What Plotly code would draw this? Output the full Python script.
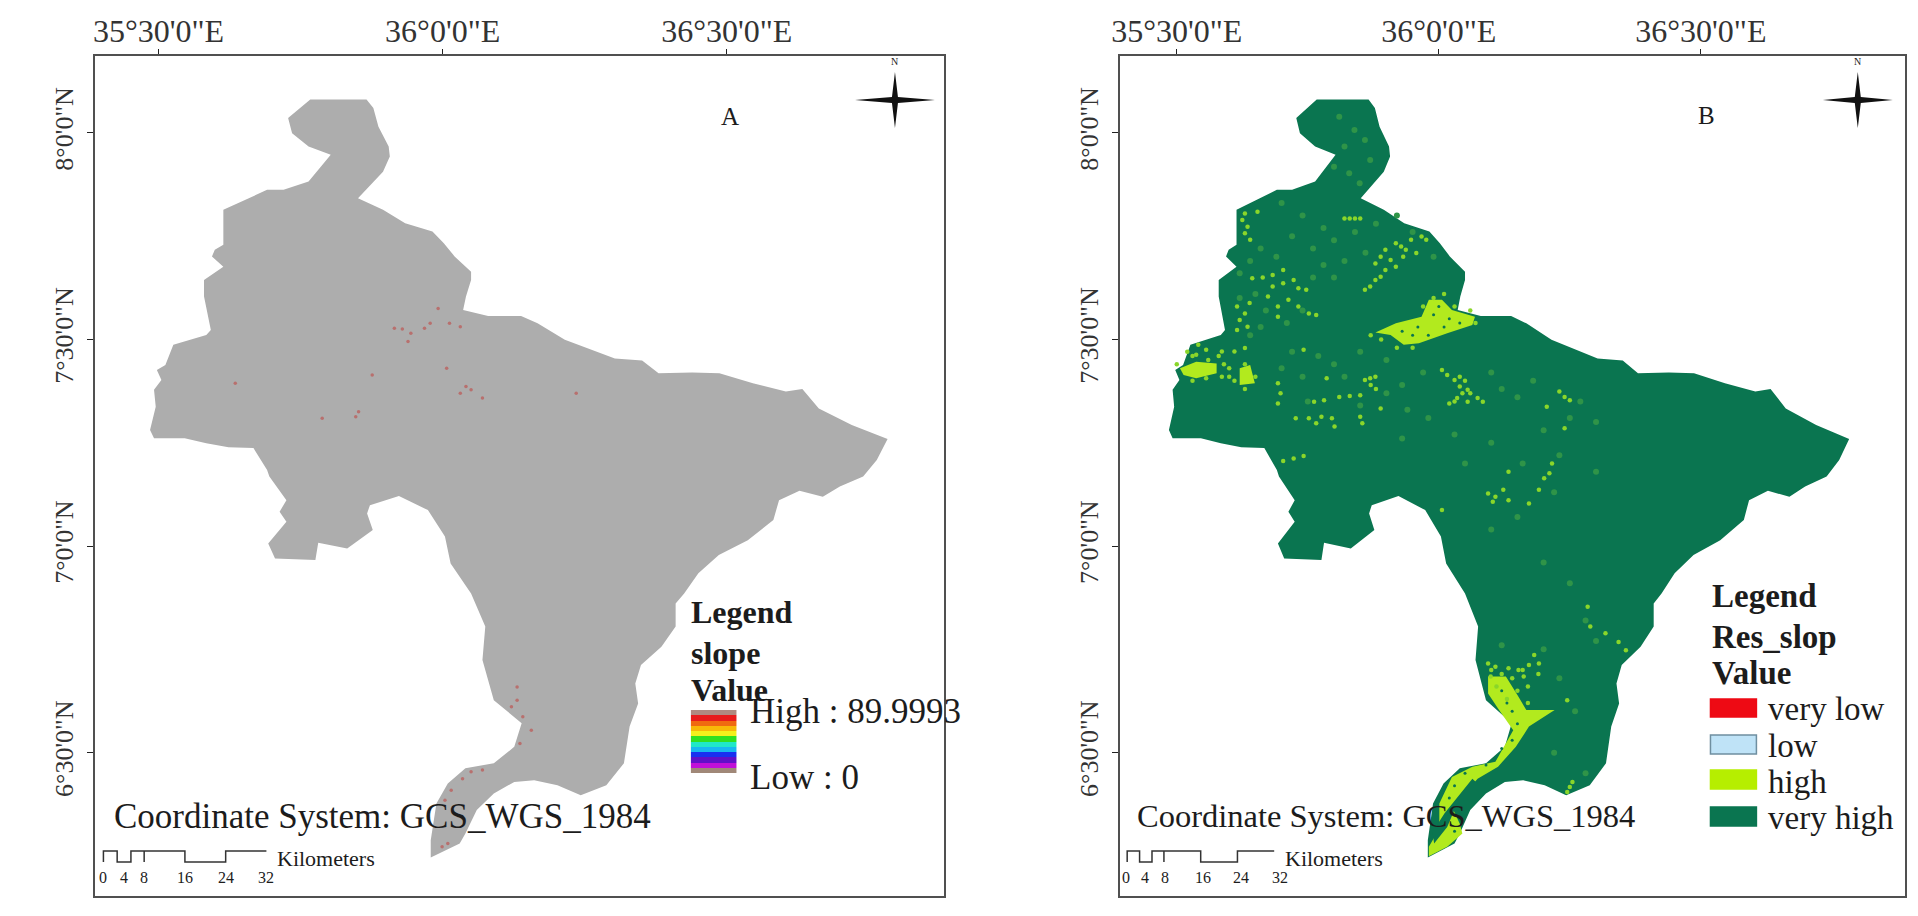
import plotly.graph_objects as go

W, H = 1918, 916
SERIF = "Liberation Serif"

# catchment outline (degrees)
outline_lon = [35.767, 35.866, 35.878, 35.887, 35.905, 35.907, 35.895, 35.871, 35.851, 35.895, 35.934, 35.982,
	36.002, 36.021, 36.050, 36.050, 36.041, 36.036, 36.080, 36.138, 36.167, 36.215, 36.254, 36.303, 36.351,
	36.380, 36.439, 36.487, 36.546, 36.604, 36.633, 36.662, 36.720, 36.783, 36.764, 36.740, 36.699, 36.669,
	36.628, 36.592, 36.582, 36.537, 36.486, 36.450, 36.425, 36.410, 36.410, 36.385, 36.349, 36.339, 36.344,
	36.329, 36.319, 36.288, 36.243, 36.202, 36.161, 36.126, 36.090, 36.060, 36.040, 36.030, 35.979, 35.979,
	35.989, 36.009, 36.040, 36.090, 36.126, 36.139, 36.090, 36.070, 36.075, 36.050, 36.014, 36.004, 35.974,
	35.923, 35.872, 35.867, 35.877, 35.832, 35.781, 35.776, 35.705, 35.693, 35.725, 35.713, 35.725, 35.695,
	35.691, 35.667, 35.623, 35.584, 35.546, 35.492, 35.485, 35.495, 35.492, 35.505, 35.497, 35.512, 35.526,
	35.584, 35.592, 35.580, 35.580, 35.614, 35.594, 35.599, 35.614, 35.614, 35.691, 35.720, 35.764, 35.803,
	35.764, 35.735, 35.728]
outline_lat = [8.081, 8.081, 8.060, 8.015, 7.967, 7.943, 7.906, 7.870, 7.842, 7.814, 7.781, 7.761,
	7.733, 7.701, 7.664, 7.644, 7.604, 7.571, 7.557, 7.557, 7.539, 7.499, 7.479, 7.454, 7.449,
	7.418, 7.420, 7.418, 7.394, 7.374, 7.380, 7.333, 7.293, 7.259, 7.208, 7.168, 7.144, 7.119,
	7.134, 7.111, 7.063, 7.014, 6.978, 6.934, 6.885, 6.861, 6.805, 6.756, 6.712, 6.667, 6.619,
	6.563, 6.474, 6.421, 6.397, 6.421, 6.433, 6.429, 6.401, 6.361, 6.304, 6.280, 6.246, 6.288,
	6.377, 6.425, 6.462, 6.474, 6.514, 6.571, 6.627, 6.724, 6.805, 6.885, 6.958, 7.023, 7.087,
	7.121, 7.099, 7.079, 7.039, 6.994, 7.008, 6.966, 6.970, 7.006, 7.059, 7.083, 7.111, 7.168,
	7.184, 7.237, 7.239, 7.249, 7.261, 7.261, 7.281, 7.337, 7.378, 7.402, 7.426, 7.438, 7.487,
	7.511, 7.523, 7.604, 7.644, 7.676, 7.701, 7.717, 7.729, 7.814, 7.862, 7.862, 7.882, 7.947,
	7.967, 7.999, 8.036]

# panel A: steep cells showing red in the slope raster
steep_lon = [35.915, 35.929, 35.944, 35.968, 35.978, 35.992, 36.012, 36.031, 35.939, 36.007, 36.041, 36.031, 36.050,
	35.876, 35.635, 35.788, 35.847, 35.852, 36.070, 36.235, 36.131, 36.131, 36.121, 36.141, 36.156, 36.136,
	36.070, 36.050, 36.035, 36.015, 36.004, 35.999, 36.009]
steep_lat = [7.527, 7.525, 7.515, 7.527, 7.539, 7.575, 7.539, 7.531, 7.495, 7.430, 7.386, 7.370, 7.378,
	7.414, 7.394, 7.309, 7.313, 7.325, 7.358, 7.370, 6.659, 6.627, 6.611, 6.587, 6.554, 6.522,
	6.458, 6.454, 6.437, 6.409, 6.385, 6.272, 6.280]

# panel B: "high" class patches
patch_mid_lon = [35.879, 35.918, 35.967, 35.981, 36.006, 36.025, 36.069, 36.064, 36.016, 35.962, 35.933, 35.908]
patch_mid_lat = [7.517, 7.539, 7.555, 7.596, 7.596, 7.571, 7.555, 7.535, 7.515, 7.491, 7.487, 7.511]
patch_west_lon = [35.506, 35.537, 35.576, 35.576, 35.537, 35.513]
patch_west_lat = [7.430, 7.446, 7.442, 7.418, 7.406, 7.414]
patch_west2_lon = [35.620, 35.640, 35.649, 35.620]
patch_west2_lat = [7.430, 7.438, 7.394, 7.390]
patch_south_lon = [36.094, 36.128, 36.152, 36.167, 36.221, 36.172, 36.147, 36.113, 36.074, 36.055, 36.025, 36.040,
	36.045, 36.016, 35.981, 35.981, 36.001, 36.001, 36.025, 36.064, 36.108, 36.142, 36.113, 36.094]
patch_south_lat = [6.684, 6.684, 6.635, 6.603, 6.603, 6.563, 6.514, 6.466, 6.437, 6.409, 6.369, 6.328,
	6.304, 6.272, 6.249, 6.272, 6.316, 6.377, 6.441, 6.466, 6.478, 6.554, 6.607, 6.643]
sliver_lon = [36.064, 36.074, 36.035, 36.016, 35.991, 35.988, 36.011]
sliver_lat = [6.437, 6.425, 6.377, 6.320, 6.280, 6.308, 6.353]

# panel B: scattered "high" cells
high_lon = [35.630, 35.625, 35.635, 35.630, 35.640, 35.654, 35.820, 35.830, 35.840, 35.850,
	35.967, 35.947, 35.928, 35.918, 35.898, 35.937, 35.889, 35.908, 35.879, 35.898, 35.918, 35.879, 35.889, 35.869, 35.859, 35.976, 35.957, 35.932,
	35.644, 35.664, 35.683, 35.703, 35.723, 35.732, 35.747, 35.683, 35.703, 35.674, 35.693, 35.713, 35.752, 35.766, 35.732, 35.693,
	35.615, 35.630, 35.620, 35.635, 35.615, 35.639,
	35.541, 35.556, 35.586, 35.610, 35.630, 35.537, 35.600, 35.556, 35.586, 35.742,
	35.693, 35.698, 35.693, 35.786, 35.869, 35.879, 35.859, 35.810, 35.830, 35.850, 35.762, 35.781,
	35.727, 35.752, 35.776, 35.796, 35.801, 35.850, 35.854, 35.889, 35.766,
	36.006, 36.016, 36.030, 36.040, 36.045, 36.055, 36.035, 36.055, 36.074, 36.084, 36.020,
	36.230, 36.240, 36.250, 36.206, 36.240, 35.703, 35.723, 35.742, 36.133, 36.211, 36.216,
	36.094, 36.108, 36.123, 36.103, 36.133, 36.201, 36.191, 36.172, 36.006, 36.284, 36.289, 36.318, 36.343, 36.357,
	36.255, 36.250, 36.245, 36.094, 36.108, 36.133, 36.152, 36.172, 36.191, 36.182, 36.099, 36.162, 36.245,
	35.870, 35.890, 35.920, 35.950, 35.990, 36.010, 36.030, 36.060, 36.070, 35.970,
	35.520, 35.530, 35.560, 35.580, 35.590, 35.600, 35.530, 35.500, 35.630, 35.650, 35.630, 35.610,
	36.100, 36.120, 36.140, 36.160, 36.110, 36.150, 36.170, 36.130, 36.170, 36.190,
	35.870, 35.880, 36.040, 36.050, 36.060, 36.030]
high_lat = [7.805, 7.789, 7.773, 7.757, 7.741, 7.809, 7.793, 7.793, 7.793, 7.793,
	7.749, 7.741, 7.725, 7.733, 7.717, 7.717, 7.700, 7.692, 7.684, 7.668, 7.676, 7.644, 7.652, 7.628, 7.620, 7.741, 7.709, 7.700,
	7.648, 7.650, 7.656, 7.668, 7.644, 7.624, 7.620, 7.628, 7.636, 7.604, 7.580, 7.596, 7.563, 7.559, 7.580, 7.555,
	7.580, 7.563, 7.547, 7.531, 7.523, 7.588,
	7.487, 7.475, 7.471, 7.471, 7.479, 7.463, 7.430, 7.406, 7.410, 7.475,
	7.394, 7.370, 7.345, 7.406, 7.406, 7.410, 7.402, 7.361, 7.363, 7.365, 7.349, 7.353,
	7.309, 7.309, 7.313, 7.309, 7.289, 7.313, 7.297, 7.333, 7.297,
	7.426, 7.414, 7.402, 7.386, 7.370, 7.378, 7.358, 7.349, 7.358, 7.349, 7.345,
	7.374, 7.361, 7.353, 7.337, 7.285, 7.206, 7.212, 7.218, 7.180, 7.176, 7.200,
	7.127, 7.119, 7.136, 7.107, 7.111, 7.164, 7.136, 7.103, 7.087, 6.853, 6.805, 6.789, 6.768, 6.748,
	6.429, 6.417, 6.405, 6.716, 6.708, 6.704, 6.700, 6.712, 6.716, 6.736, 6.684, 6.684, 6.627,
	7.510, 7.500, 7.480, 7.480, 7.600, 7.610, 7.580, 7.570, 7.540, 7.580,
	7.470, 7.460, 7.450, 7.460, 7.440, 7.410, 7.400, 7.440, 7.440, 7.410, 7.380, 7.400,
	6.700, 6.690, 6.680, 6.700, 6.660, 6.650, 6.660, 6.630, 6.620, 6.690,
	7.390, 7.380, 7.410, 7.400, 7.370, 7.350]

# panel B: fainter cells that blur into the dark class
faint_lon = [35.810, 35.839, 35.859, 35.820, 35.869, 35.829, 35.849, 35.800,
	35.700, 35.740, 35.780, 35.720, 35.760, 35.800, 35.840, 35.880, 35.920, 35.950, 35.990, 35.860, 35.820, 35.780, 35.800, 35.760,
	35.690, 35.660, 35.640, 35.620, 35.650, 35.670, 35.710, 35.660, 35.740, 35.620, 35.640,
	35.720, 35.770, 35.800, 35.850, 35.900, 35.700, 35.740, 35.820, 35.930, 35.970, 35.900, 35.940, 35.980, 35.750, 35.850,
	36.100, 36.120, 36.150, 36.180, 36.270, 36.300, 36.250, 36.200, 36.030, 36.100, 35.930, 36.050, 36.160, 36.220, 36.150, 36.100, 36.230, 36.300,
	36.200, 36.250, 36.280, 36.300, 36.120, 36.200, 36.230, 36.260, 36.220, 36.280]
faint_lat = [8.039, 8.007, 7.983, 7.967, 7.934, 7.902, 7.878, 7.918,
	7.830, 7.800, 7.770, 7.750, 7.720, 7.740, 7.760, 7.780, 7.800, 7.760, 7.700, 7.710, 7.690, 7.680, 7.650, 7.650,
	7.700, 7.720, 7.690, 7.660, 7.610, 7.570, 7.540, 7.530, 7.570, 7.600, 7.510,
	7.470, 7.460, 7.440, 7.470, 7.450, 7.430, 7.410, 7.410, 7.390, 7.420, 7.370, 7.330, 7.310, 7.350, 7.340,
	7.420, 7.380, 7.360, 7.400, 7.350, 7.300, 7.310, 7.280, 7.270, 7.250, 7.260, 7.200, 7.200, 7.130, 7.070, 7.040, 7.220, 7.180,
	6.960, 6.910, 6.820, 6.770, 6.760, 6.750, 6.680, 6.600, 6.500, 6.450]

# panel B: dark cells left inside the bright patches
fleck_lon = [35.930, 35.960, 35.990, 36.000, 36.020, 36.040, 35.980, 35.950, 36.010,
	36.120, 36.140, 36.130, 36.150, 36.140, 36.120, 36.090, 36.050, 36.030, 36.020, 36.020, 36.030]
fleck_lat = [7.520, 7.530, 7.560, 7.580, 7.550, 7.540, 7.510, 7.510, 7.530,
	6.650, 6.600, 6.620, 6.570, 6.530, 6.510, 6.470, 6.450, 6.420, 6.390, 6.350, 6.310]

lon_ticks = [35.5, 36.0, 36.5]
lon_labels = ["35°30'0\"E", "36°0'0\"E", "36°30'0\"E"]
lat_ticks = [8.0, 7.5, 7.0, 6.5]
lat_labels = ["8°0'0\"N", "7°30'0\"N", "7°0'0\"N", "6°30'0\"N"]

ramp_values = [0, 1, 2, 3, 4, 5, 6, 7, 8, 9, 10, 11]
ramp_colors = ["#a08878", "#c010d8", "#6010c8", "#1830f0", "#18b8f0", "#20e8c8",
	"#30e020", "#f4f01c", "#f8b808", "#f06a10", "#e81c1c", "#b08a80"]

class_names = ["very low", "low", "high", "very high"]
class_colors = ["#ee0a14", "#bfe3f7", "#b6ee00", "#0a7550"]
scale_km = [0, 4, 8, 16, 24, 32]

GRAY = "#adadad"
DARK = class_colors[3]
HIGH = "#b2ea1e"


# small correction found by comparing renders with the reference
def fx(px):
	return (px - 8.5 + px * 0.0035) / W


def fy(py):
	return 1 - py / H


def text(s, px, py, size, anchor="left", bold=False):
	if bold:
		s = "<b>" + s + "</b>"
	return dict(text=s, x=fx(px), y=fy(py), xref="paper", yref="paper", xanchor=anchor, yanchor="middle",
		showarrow=False, font=dict(family=SERIF, size=size, color="#1c1c1c"))


def compass(cx, cy, half_w):
	pts = [(cx, cy - 28), (cx + 3, cy - 3), (cx + half_w, cy), (cx + 3, cy + 3),
		(cx, cy + 28), (cx - 3, cy + 3), (cx - half_w, cy), (cx - 3, cy - 3)]
	path = "M" + " L".join("%.5f,%.5f" % (fx(x), fy(y)) for x, y in pts) + " Z"
	return dict(type="path", path=path, xref="paper", yref="paper", fillcolor="#111111", line_width=0)


def scale_bar(x0, per_km):
	# alternating bar, first 8 km split in three
	breaks = [0, 2.7, 5.4, 8, 16, 24, 32]
	levels = [0, 1, 0, 0, 1, 0]
	top, bottom = 851, 862
	pts = []
	for i, lev in enumerate(levels):
		y = bottom if lev else top
		pts.append((x0 + breaks[i] * per_km, bottom))
		pts.append((x0 + breaks[i] * per_km, y))
		pts.append((x0 + breaks[i + 1] * per_km, y))
	path = "M" + " L".join("%.5f,%.5f" % (fx(x), fy(y)) for x, y in pts)
	return dict(type="path", path=path, xref="paper", yref="paper", line=dict(color="#333333", width=1.5))


def axis_pair(x0, x1, lon_range, anchor_y, anchor_x):
	xax = dict(domain=[fx(x0), fx(x1)], range=lon_range, side="top", anchor=anchor_y, tickvals=lon_ticks, ticktext=lon_labels,
		ticks="outside", ticklen=5, tickcolor="#222222", tickfont=dict(family=SERIF, size=32, color="#333333"),
		showgrid=False, zeroline=False, showline=True, mirror=True, linecolor="#505050", linewidth=2, ticklabelstandoff=-6)
	yax = dict(domain=[fy(896), fy(56)], range=[6.153, 8.186], anchor=anchor_x, tickvals=lat_ticks, ticktext=lat_labels,
		tickangle=-90, ticks="outside", ticklen=6, tickcolor="#222222", tickfont=dict(family=SERIF, size=26, color="#333333"),
		showgrid=False, zeroline=False, showline=True, mirror=True, linecolor="#505050", linewidth=2, ticklabelstandoff=4)
	return xax, yax


def region(lons, lats, color, xa, ya):
	return go.Scatter(x=lons, y=lats, mode="lines", fill="toself", fillcolor=color, line=dict(width=0, color=color),
		xaxis=xa, yaxis=ya, showlegend=False, hoverinfo="skip")


def cells(lons, lats, size, color, xa, ya):
	return go.Scatter(x=lons, y=lats, mode="markers", marker=dict(size=size, color=color, line_width=0),
		xaxis=xa, yaxis=ya, showlegend=False, hoverinfo="skip")


fig = go.Figure()

# panel A
fig.add_trace(region(outline_lon, outline_lat, GRAY, "x", "y"))
fig.add_trace(cells(steep_lon, steep_lat, 3.5, "#b8706e", "x", "y"))

# panel B
fig.add_trace(region(outline_lon, outline_lat, DARK, "x2", "y2"))
fig.add_trace(cells(faint_lon, faint_lat, 6, "#2f9448", "x2", "y2"))
for lons, lats in [(patch_mid_lon, patch_mid_lat), (patch_west_lon, patch_west_lat),
		(patch_west2_lon, patch_west2_lat), (patch_south_lon, patch_south_lat)]:
	fig.add_trace(region(lons, lats, HIGH, "x2", "y2"))
fig.add_trace(region(sliver_lon, sliver_lat, DARK, "x2", "y2"))
fig.add_trace(cells(high_lon, high_lat, 4.5, "#8ad62a", "x2", "y2"))
fig.add_trace(cells(fleck_lon, fleck_lat, 3, DARK, "x2", "y2"))

# slope colour ramp of panel A
fig.add_trace(go.Heatmap(z=[[v] for v in ramp_values], xaxis="x3", yaxis="y3", showscale=False, hoverinfo="skip",
	zmin=0, zmax=11, colorscale=[[i / 11, c] for i, c in enumerate(ramp_colors)]))

xa1, ya1 = axis_pair(94.5, 945, [35.388, 36.883], "y", "x")
xa2, ya2 = axis_pair(1121, 1907, [35.392, 36.890], "y2", "x2")

shapes = [compass(895.5, 100, 40), compass(1859.5, 100, 35), scale_bar(103, 5.1), scale_bar(1128, 4.6)]
annots = [
	text("A", 730, 117, 25, "center"),
	text("B", 1708, 116, 25, "center"),
	text("N", 895, 61, 10, "center"),
	text("N", 1859, 61, 10, "center"),
	text("Coordinate System: GCS_WGS_1984", 112, 816, 35),
	text("Coordinate System: GCS_WGS_1984", 1136, 816, 32.5),
	text("Kilometers", 275, 858, 22),
	text("Kilometers", 1284, 858, 22),
	text("Legend", 689, 612, 32, bold=True),
	text("slope", 689, 653, 32, bold=True),
	text("Value", 689, 690, 32, bold=True),
	text("High : 89.9993", 748, 711, 35),
	text("Low : 0", 748, 777, 35),
	text("Legend", 1712, 596, 33, bold=True),
	text("Res_slop", 1712, 637, 33, bold=True),
	text("Value", 1712, 673, 33, bold=True),
]
for km in scale_km:
	annots.append(text(str(km), 103 + 5.1 * km, 877, 16, "center"))
	annots.append(text(str(km), 1127 + 4.8 * km, 877, 16, "center"))

swatch_y = [(699, 717), (735, 754), (770, 789), (807, 826)]
label_y = [709, 746, 782, 818]
for name, color, (y0, y1), ly in zip(class_names, class_colors, swatch_y, label_y):
	edge = "#6f8fa0" if name == "low" else color
	shapes.append(dict(type="rect", xref="paper", yref="paper", x0=fx(1712), x1=fx(1758), y0=fy(y1), y1=fy(y0),
		fillcolor=color, line=dict(color=edge, width=1.5)))
	annots.append(text(name, 1768, ly, 33))

fig.update_layout(
	width=W, height=H, margin=dict(l=0, r=0, t=0, b=0), paper_bgcolor="white", plot_bgcolor="white",
	showlegend=False, shapes=shapes, annotations=annots,
	xaxis=xa1, yaxis=ya1, xaxis2=xa2, yaxis2=ya2,
	xaxis3=dict(domain=[fx(691), fx(737)], anchor="y3", visible=False),
	yaxis3=dict(domain=[fy(773), fy(710)], anchor="x3", visible=False),
)

fig.write_html("out.html", config={"displayModeBar": False}, post_script="document.body.style.margin='0';")
